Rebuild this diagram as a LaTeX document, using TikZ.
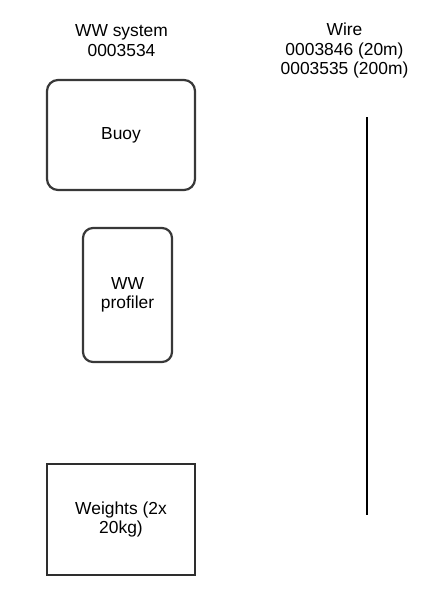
\documentclass[tikz,border=0pt]{standalone}
\usepackage{fontspec}
\setmainfont{Liberation Sans}

\begin{document}
\begin{tikzpicture}[x=1pt,y=-1pt,
  txt/.style={align=center,font=\fontsize{17.4}{19.5}\selectfont},
  head/.style={txt,anchor=north},
  part/.style={txt,draw=black!78,line width=2.2pt,rounded corners=11pt}]
\useasboundingbox (0,0) rectangle (433,598);
\node[head] (syshead) at (121.5,21) {WW system\\0003534};
\node[head] (wirehead) at (344.5,19.5) {Wire\\0003846 (20m)\\0003535 (200m)};
\node[part,minimum width=148pt,minimum height=110pt] (buoy) at (121,135) {Buoy};
\node[part,minimum width=89pt,minimum height=134pt,rounded corners=10pt] (profiler) at (127.5,295) {WW\\profiler};
\node[part,minimum width=148pt,minimum height=111pt,rounded corners=0pt,draw=black!82,line width=2.6pt] (weights) at (121,519.5) {Weights (2x\\20kg)};
\coordinate (wiretop) at (367,117);
\coordinate (wirebot) at (367,515);
\draw[line width=2.6pt] (wiretop) -- (wirebot);
\end{tikzpicture}
\end{document}
